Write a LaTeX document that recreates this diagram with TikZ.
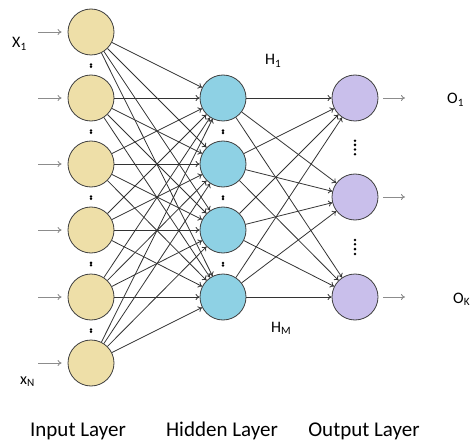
\documentclass[tikz,border=0pt]{standalone}
\usepackage{fontspec}
\setmainfont{Carlito}
\usepackage{xcolor}
\usetikzlibrary{arrows.meta,positioning}

\definecolor{inputfill}{HTML}{EEDFA8}
\definecolor{hiddenfill}{HTML}{8ED1E4}
\definecolor{outputfill}{HTML}{C9BFEB}

\begin{document}
\begin{tikzpicture}[x=1pt, y=-1pt,
    neuron/.style={circle, draw=black!75, line width=0.8pt, minimum size=46pt, inner sep=0pt},
    link/.style={draw=black!80, line width=0.8pt, -{To[length=4pt,width=6pt]}},
    feed/.style={draw=black!45, line width=0.9pt, -{To[length=4pt,width=6pt]}},
    dot/.style={circle, fill=black, inner sep=0pt, minimum size=2.8pt},
    lab/.style={font=\fontsize{16}{18}\selectfont, inner sep=0pt},
    layer/.style={font=\fontsize{21}{24}\selectfont, inner sep=0pt, anchor=base}]
    \useasboundingbox (0,0) rectangle (474,441);

    % Input layer
    \foreach \i/\y in {1/32, 2/98, 3/164, 4/230, 5/297, 6/363} {
        \node [neuron, fill=inputfill] (in\i) at (91,\y) {};
        \coordinate (src\i) at (38,\y);
        \draw [feed, shorten >=6pt] (src\i) -- (in\i);
    }
    \foreach \i/\j in {1/2, 2/3, 3/4, 4/5, 5/6} {
        \path (in\i) -- (in\j) node [dot, pos=0.47] {} node [dot, pos=0.59] {};
    }

    % Hidden layer
    \foreach \i/\y in {1/98, 2/164, 3/230, 4/297} {
        \node [neuron, fill=hiddenfill] (hid\i) at (223,\y) {};
    }
    \foreach \i/\j in {1/2, 2/3, 3/4} {
        \path (hid\i) -- (hid\j) node [dot, pos=0.48] {} node [dot, pos=0.6] {};
    }

    % Output layer
    \foreach \i/\y in {1/98, 2/197, 3/297} {
        \node [neuron, fill=outputfill] (out\i) at (355,\y) {};
        \coordinate (dst\i) at (405,\y);
        \draw [feed, shorten <=5pt] (out\i) -- (dst\i);
    }
    \foreach \i/\j in {1/2, 2/3} {
        \path (out\i) -- (out\j) node [dot, pos=0.37] {} node [dot, pos=0.45] {}
            node [dot, pos=0.54] {} node [dot, pos=0.63] {};
    }

    % Connections
    \foreach \i in {1,...,6} {
        \foreach \j in {1,...,4} {
            \draw [link] (in\i) -- (hid\j);
        }
    }
    \foreach \i in {1,...,4} {
        \foreach \j in {1,...,3} {
            \draw [link] (hid\i) -- (out\j);
        }
    }

    % Labels
    \node [lab, anchor=base west] (xone) at (12,48) {X\textsubscript{1}};
    \node [lab, anchor=base west] (xlast) at (20,384) {x\textsubscript{N}};
    \node [lab, anchor=base west] (hone) at (265,65) {H\textsubscript{1}};
    \node [lab, anchor=base west] (hlast) at (271,332) {H\textsubscript{M}};
    \node [lab, anchor=base west] (oone) at (447,104) {O\textsubscript{1}};
    \node [lab, anchor=base west] (olast) at (453,303) {O\textsubscript{K}};

    \node [layer] (inlab) at (78,436) {Input Layer};
    \node [layer] (hidlab) at (222,436) {Hidden Layer};
    \node [layer] (outlab) at (364,436) {Output Layer};
\end{tikzpicture}
\end{document}
